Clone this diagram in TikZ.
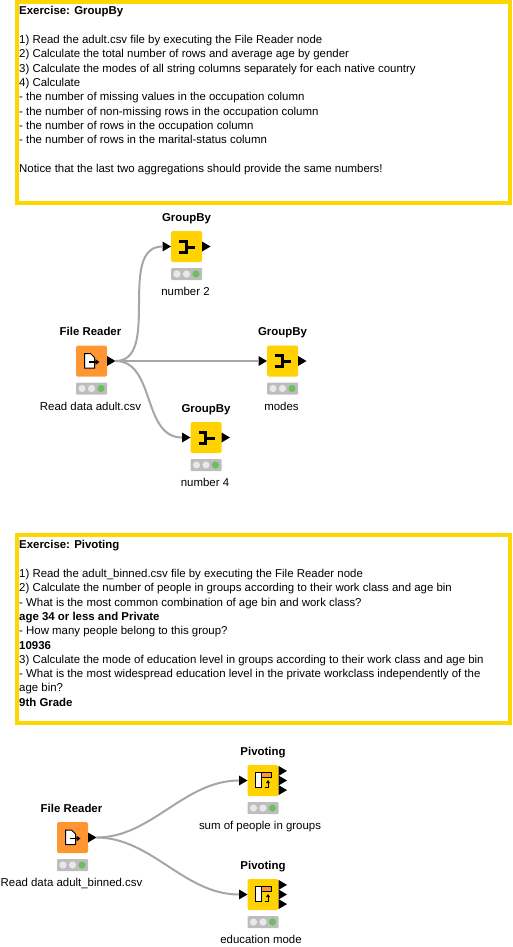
\documentclass[tikz,border=0pt]{standalone}
\usepackage{fontspec}
\setmainfont{Liberation Sans}
\usepackage{xcolor}
\usetikzlibrary{shapes.geometric,positioning}

\definecolor{noteyellow}{HTML}{FFD700}
\definecolor{manipyellow}{HTML}{FFD200}
\definecolor{readerorange}{HTML}{FF9632}
\definecolor{wiregray}{HTML}{A6A6A6}
\definecolor{lightgray}{HTML}{BDBDBD}
\definecolor{lampoff}{HTML}{E8E8E8}
\definecolor{lampgreen}{HTML}{6CBF5C}

\begin{document}
\begin{tikzpicture}[
    x=1pt, y=-1pt,
    note/.style={draw=noteyellow, line width=4pt, rectangle, outer sep=0pt, anchor=north west},
    notetext/.style={anchor=north west, inner sep=0pt, align=left, font=\fontsize{11.43}{14.3}\selectfont},
    knode/.style={rectangle, rounded corners=1.5pt, minimum width=31pt, minimum height=31pt, inner sep=0pt, outer sep=0pt},
    reader/.style={knode, fill=readerorange, path picture={
        \begin{scope}[sharp corners, shift={(path picture bounding box.center)}]
            \draw [fill=white, line width=1pt] (-7,-7.5) -- (-1,-7.5) -- (3,-3.5) -- (3,7) -- (-7,7) -- cycle;
            \draw [line width=1.6pt] (-2.5,1) -- (5,1);
            \fill [black] (4,-1.8) -- (8,1) -- (4,3.8) -- cycle;
        \end{scope}}},
    groupby/.style={knode, fill=manipyellow, path picture={
        \begin{scope}[sharp corners, shift={(path picture bounding box.center)}]
            \draw [line width=3pt] (-7.5,-5.5) -- (-0.5,-5.5) -- (-0.5,5.5) -- (-7.5,5.5);
            \draw [line width=3pt] (-0.5,0.5) -- (8.5,0.5);
        \end{scope}}},
    pivot/.style={knode, fill=manipyellow, path picture={
        \begin{scope}[sharp corners, shift={(path picture bounding box.center)}]
            \draw [fill=readerorange, line width=.7pt] (-2,-8) rectangle (8,-3);
            \draw [fill=white, line width=.7pt] (-7.5,-8) rectangle (-2,7);
            \draw [line width=.8pt] (1.5,6.5) -- (5,6.5) -- (5,2);
            \fill [black] (3,2.5) -- (5,-0.5) -- (7,2.5) -- cycle;
        \end{scope}}},
    lights/.style={rectangle, rounded corners=1pt, fill=lightgray, minimum width=31pt, minimum height=12pt, inner sep=0pt, outer sep=0pt, below=6pt of #1, path picture={
        \begin{scope}[shift={(path picture bounding box.center)}]
            \fill [lampoff] (-9.5,0) circle (3.6);
            \fill [lampoff] (0,0) circle (3.6);
            \fill [lampgreen] (9.5,0) circle (3.6);
        \end{scope}}},
    port/.style={isosceles triangle, isosceles triangle stretches, fill=black, inner sep=0pt, outer sep=0pt, minimum height=8.5pt, minimum width=10pt},
    nodetitle/.style={font=\fontsize{11.43}{13}\selectfont\bfseries, inner sep=0pt, text height=8pt, text depth=2.5pt, above=7.2pt of #1},
    nodelabel/.style={font=\fontsize{11.43}{13}\selectfont, inner sep=0pt, text height=8pt, text depth=2.5pt, below=7.7pt of #1, xshift=-1pt},
    wire/.style={draw=wiregray, line width=2pt}
]
    \useasboundingbox (0,0) rectangle (512,947);

    % GroupBy exercise
    \node [note, minimum width=493pt, minimum height=201pt] (note1) at (17,2) {};
    \node [notetext] (note1text) at (19,6.5) {\textbf{Exercise: GroupBy}\\ \\
        1) Read the adult.csv file by executing the File Reader node\\
        2) Calculate the total number of rows and average age by gender\\
        3) Calculate the modes of all string columns separately for each native country\\
        4) Calculate\\
        - the number of missing values in the occupation column\\
        - the number of non-missing rows in the occupation column\\
        - the number of rows in the occupation column\\
        - the number of rows in the marital-status column\\ \\
        Notice that the last two aggregations should provide the same numbers!};

    \node [reader] (reader1) at (91.5,361) {};
    \node [groupby] (group2) at (186.5,246.5) {};
    \node [groupby] (modes) at (282.5,361) {};
    \node [groupby] (group4) at (206,437.5) {};

    \node [nodetitle=reader1, xshift=-1pt] (reader1title) {File Reader};
    \node [nodetitle=group2] (group2title) {GroupBy};
    \node [nodetitle=modes] (modestitle) {GroupBy};
    \node [nodetitle=group4] (group4title) {GroupBy};

    \node [lights=reader1] (reader1lights) {};
    \node [lights=group2] (group2lights) {};
    \node [lights=modes] (modeslights) {};
    \node [lights=group4] (group4lights) {};

    \node [nodelabel=reader1lights] (reader1label) {Read data adult.csv};
    \node [nodelabel=group2lights] (group2label) {number 2};
    \node [nodelabel=modeslights] (modeslabel) {modes};
    \node [nodelabel=group4lights] (group4label) {number 4};

    \node [port, right=0pt of reader1] (reader1out) {};
    \node [port, left=0pt of group2] (group2in) {};
    \node [port, right=0pt of group2] (group2out) {};
    \node [port, left=0pt of modes] (modesin) {};
    \node [port, right=0pt of modes] (modesout) {};
    \node [port, left=0pt of group4] (group4in) {};
    \node [port, right=0pt of group4] (group4out) {};

    % Connections
    \draw [wire] (reader1out.apex) .. controls +(46,0) and +(-46,0) .. (group2in.west);
    \draw [wire] (reader1out.apex) -- (modesin.west);
    \draw [wire] (reader1out.apex) .. controls +(40,0) and +(-40,0) .. (group4in.west);

    % Pivoting exercise
    \node [note, minimum width=493pt, minimum height=188pt] (note2) at (17,535) {};
    \node [notetext] (note2text) at (19,540.5) {\textbf{Exercise: Pivoting}\\ \\
        1) Read the adult\_binned.csv file by executing the File Reader node\\
        2) Calculate the number of people in groups according to their work class and age bin\\
        - What is the most common combination of age bin and work class?\\
        \textbf{age 34 or less and Private}\\
        - How many people belong to this group?\\
        \textbf{10936}\\
        3) Calculate the mode of education level in groups according to their work class and age bin\\
        - What is the most widespread education level in the private workclass independently of the\\
        age bin?\\
        \textbf{9th Grade}};

    \node [reader] (reader2) at (72.5,837.5) {};
    \node [pivot] (pivot1) at (263,780.5) {};
    \node [pivot] (pivot2) at (263,894.5) {};

    \node [nodetitle=reader2, xshift=-1pt] (reader2title) {File Reader};
    \node [nodetitle=pivot1] (pivot1title) {Pivoting};
    \node [nodetitle=pivot2] (pivot2title) {Pivoting};

    \node [lights=reader2] (reader2lights) {};
    \node [lights=pivot1] (pivot1lights) {};
    \node [lights=pivot2] (pivot2lights) {};

    \node [nodelabel=reader2lights] (reader2label) {Read data adult\_binned.csv};
    \node [nodelabel=pivot1lights, xshift=-2pt] (pivot1label) {sum of people in groups};
    \node [nodelabel=pivot2lights, xshift=-1pt] (pivot2label) {education mode};

    \node [port, right=0pt of reader2] (reader2out) {};
    \node [port, left=0pt of pivot1] (pivot1in) {};
    \node [port, right=0pt of pivot1, yshift=9.6pt] (pivot1outa) {};
    \node [port, right=0pt of pivot1] (pivot1outb) {};
    \node [port, right=0pt of pivot1, yshift=-9.6pt] (pivot1outc) {};
    \node [port, left=0pt of pivot2] (pivot2in) {};
    \node [port, right=0pt of pivot2, yshift=9.6pt] (pivot2outa) {};
    \node [port, right=0pt of pivot2] (pivot2outb) {};
    \node [port, right=0pt of pivot2, yshift=-9.6pt] (pivot2outc) {};

    \draw [wire] (reader2out.apex) .. controls +(55,0) and +(-55,0) .. (pivot1in.west);
    \draw [wire] (reader2out.apex) .. controls +(55,0) and +(-55,0) .. (pivot2in.west);

\end{tikzpicture}
\end{document}
